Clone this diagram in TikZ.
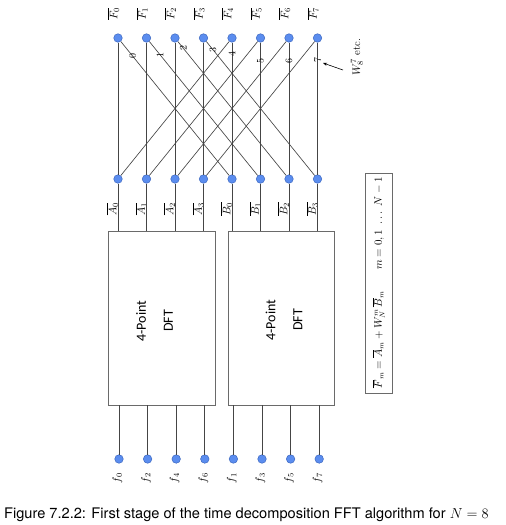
\documentclass[tikz,border=0pt]{standalone}
\usepackage{fontspec}
\newfontfamily\carlito{Carlito}
\newfontfamily\heros{TeX Gyre Heros}
\usetikzlibrary{arrows.meta}
\definecolor{dotblue}{HTML}{5B8DEF}
\definecolor{dotedge}{HTML}{3A66C0}
\definecolor{wiregray}{HTML}{454545}
\definecolor{boxgray}{HTML}{6A6A6A}
\begin{document}
\begin{tikzpicture}[x=1pt,y=-1pt,
  dot/.style={circle,fill=dotblue,draw=dotedge,line width=0.5pt,minimum size=8.5pt,inner sep=0pt},
  wire/.style={draw=wiregray,line width=0.65pt},
  lab/.style={rotate=90,font=\fontsize{11}{13}\selectfont,inner sep=0pt},
  wlab/.style={rotate=90,font=\fontsize{10}{12}\selectfont,inner sep=0pt,text=black},
  dftbox/.style={draw=boxgray,line width=0.7pt,inner sep=0pt},
  dfttext/.style={rotate=90,align=center,font=\carlito\fontsize{14}{27}\selectfont,inner sep=0pt}]
\useasboundingbox (0,0) rectangle (506,525);
\fill[white] (0,0) rectangle (506,525);

% top and middle nodes
\foreach \k in {0,...,7} {
  \pgfmathsetmacro\xx{118+28.5*\k}
  \node[dot] (T\k) at (\xx,38) {};
  \node[dot] (M\k) at (\xx,179) {};
  \node[lab] (TL\k) at (\xx-4.5,14) {$\overline{F_{\k}}$};
}
\foreach \k in {0,...,3} {
  \pgfmathsetmacro\xx{118+28.5*\k}
  \pgfmathtruncatemacro\kk{\k+4}
  \node[lab] (ML\k) at (\xx-5.5,209) {$\overline{A_{\k}}$};
  \node[lab] (ML\kk) at (\xx+114-5.5,209) {$\overline{B_{\k}}$};
}

% DFT boxes
\node[dftbox,minimum width=107pt,minimum height=174pt] (D1) at (161.5,318) {};
\node[dftbox,minimum width=106pt,minimum height=174pt] (D2) at (281,318) {};
\node[dfttext] (D1t) at (154.5,321) {4-Point\\DFT};
\node[dfttext] (D2t) at (284,320) {4-Point\\DFT};

% bottom nodes
\foreach \k/\i in {0/0,1/2,2/4,3/6,4/1,5/3,6/5,7/7} {
  \pgfmathsetmacro\xx{119+28.6*\k}
  \node[dot] (B\k) at (\xx,459) {};
  \node[lab] (BL\k) at (\xx-1.5,478) {$f_{\i}$};
}

% butterflies
\draw[wire] (T0) -- (M0);
\draw[wire] (T1) -- (M1);
\draw[wire] (T2) -- (M2);
\draw[wire] (T3) -- (M3);
\draw[wire] (T0) -- node[wlab,pos=0.11] (W0) {0} (M4);
\draw[wire] (T1) -- node[wlab,pos=0.10] (W1) {1} (M5);
\draw[wire] (T2) -- node[wlab,pos=0.05] (W2) {2} (M6);
\draw[wire] (T3) -- node[wlab,pos=0.06] (W3) {3} (M7);
\draw[wire] (T4) -- node[wlab,pos=0.09] (W4) {4} (M4);
\draw[wire] (T5) -- node[wlab,pos=0.14] (W5) {5} (M5);
\draw[wire] (T6) -- node[wlab,pos=0.14] (W6) {6} (M6);
\draw[wire] (T7) -- node[wlab,pos=0.13] (W7) {7} (M7);
\draw[wire] (T4) -- (M0);
\draw[wire] (T5) -- (M1);
\draw[wire] (T6) -- (M2);
\draw[wire] (T7) -- (M3);

% into boxes
\foreach \k in {0,...,3} { \draw[wire] (M\k) -- (M\k |- D1.north); }
\foreach \k in {4,...,7} { \draw[wire] (M\k) -- (M\k |- D2.north); }
\foreach \k in {0,...,3} { \draw[wire] (B\k |- D1.south) -- (B\k); }
\foreach \k in {4,...,7} { \draw[wire] (B\k |- D2.south) -- (B\k); }

% W label
\node[rotate=90,font=\fontsize{11}{13}\selectfont,inner sep=0pt] (WT) at (357,57) {$W_8^7$ etc.};
\coordinate (wa) at (343,70);
\coordinate (wb) at (323,63);
\draw[line width=0.6pt,-{Stealth[length=4pt,width=3pt]}] (wa) -- (wb);

% formula box
\node[dftbox,rotate=90,minimum width=220pt,minimum height=27pt,font=\fontsize{10.5}{12}\selectfont] (FB) at (378.5,283)
  {$\overline{F}_m = \overline{A}_m + W_N^m\,\overline{B}_m \qquad m = 0,1\ \ldots\ N-1$};

% caption
\node[anchor=base west,inner sep=0pt,font=\heros\fontsize{14.6}{18}\selectfont] (cap) at (4,518)
  {Figure 7.2.2: First stage of the time decomposition FFT algorithm for $N=8$};
\end{tikzpicture}
\end{document}
